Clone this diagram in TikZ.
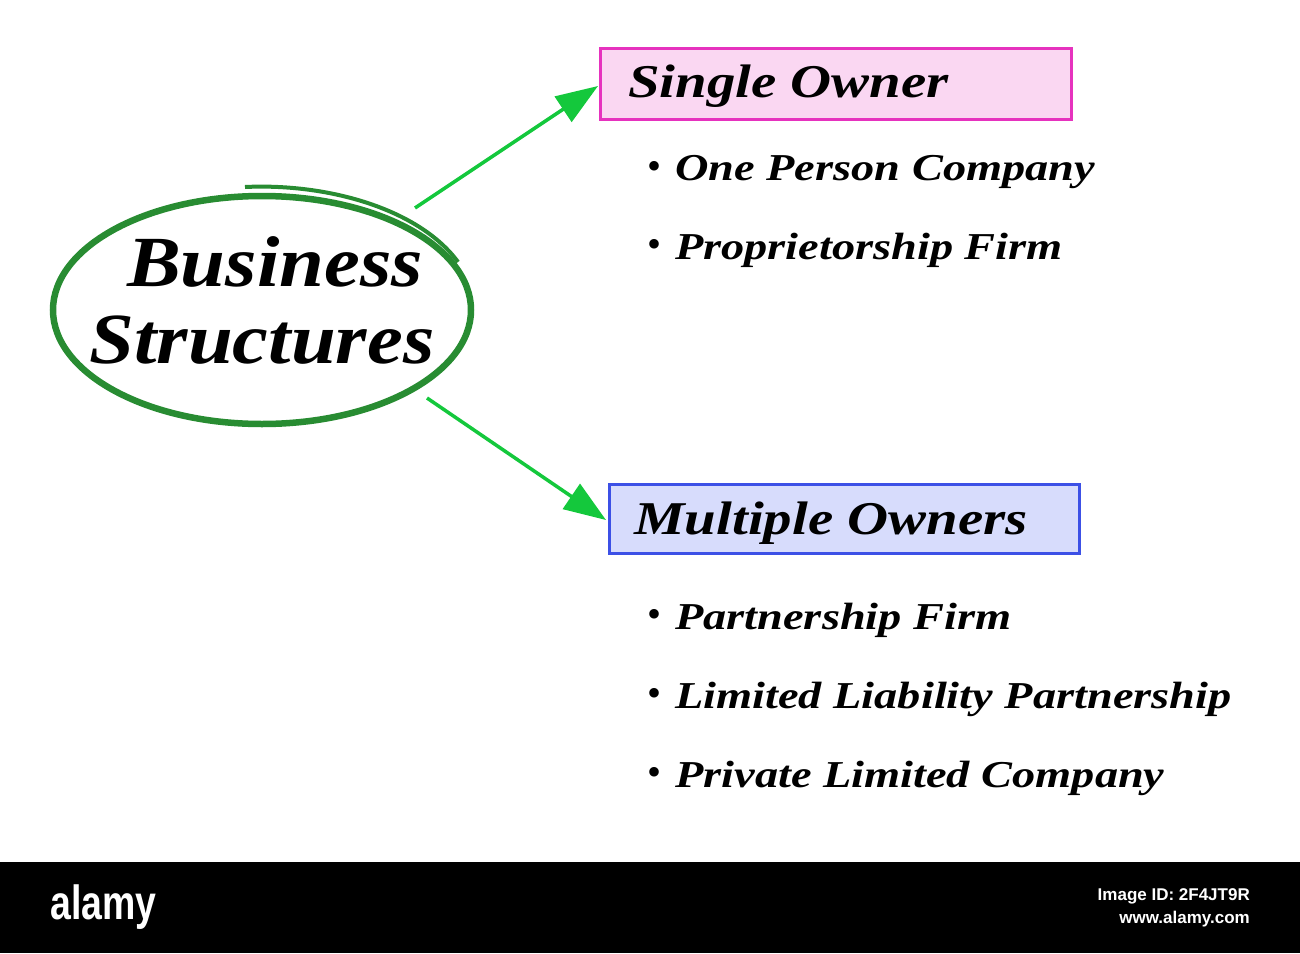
\documentclass[tikz,border=0pt]{standalone}
\usepackage{fontspec}
\setmainfont{Liberation Serif}
\setsansfont{Liberation Sans}
\newfontfamily\wide[FakeStretch=1.22]{Liberation Serif}
\newfontfamily\widebig[FakeStretch=1.12]{Liberation Serif}
\newfontfamily\widehead[FakeStretch=1.21]{Liberation Serif}
\newfontfamily\narrowsans[FakeStretch=0.78]{Liberation Sans}
\usetikzlibrary{arrows.meta,shapes.geometric}
\definecolor{dgreen}{RGB}{40,140,50}
\definecolor{agreen}{RGB}{20,200,60}
\definecolor{pinkfill}{RGB}{250,215,242}
\definecolor{pinkline}{RGB}{230,50,190}
\definecolor{bluefill}{RGB}{215,220,252}
\definecolor{blueline}{RGB}{60,80,230}
\tikzset{
  head/.style={font=\widehead\fontsize{47}{50}\selectfont\itshape\bfseries, anchor=west, inner sep=0},
  item/.style={font=\wide\fontsize{38}{44}\selectfont\itshape\bfseries, anchor=west, inner sep=0},
  dot/.style={font=\fontsize{40}{40}\selectfont, anchor=center, inner sep=0},
  box/.style={line width=3pt},
  arr/.style={draw=agreen, line width=3.5pt, -{Triangle[length=42pt,width=30pt]}}
}
\begin{document}
\begin{tikzpicture}[x=1pt,y=-1pt]
\useasboundingbox (0,0) rectangle (1300,953);
\fill[white] (0,0) rectangle (1300,953);
% ellipse
\node[draw=dgreen, line width=6.5pt, ellipse, minimum width=418pt, minimum height=228pt] (ell) at (262,310) {};
\draw[dgreen, line width=4pt] (245,187) .. controls (330,183) and (420,210) .. (458,262);
\node[inner sep=0, font=\widebig\fontsize{72}{76}\selectfont\itshape\bfseries] (t1) at (275,262) {Business};
\node[inner sep=0, font=\widebig\fontsize{72}{76}\selectfont\itshape\bfseries] (t2) at (262,340) {Structures};
% boxes
\draw[box, draw=pinkline, fill=pinkfill] (600,48) rectangle (1071,119);
\coordinate (b1) at (598,86);
\node[head] (h1) at (628,86) {Single Owner};
\draw[box, draw=blueline, fill=bluefill] (609,484) rectangle (1079,553);
\coordinate (b2) at (606,520);
\node[head] (h2) at (634,523) {Multiple Owners};
% arrows
\coordinate (a1) at (415,208);
\coordinate (a2) at (427,398);
\draw[arr] (a1) -- (b1);
\draw[arr] (a2) -- (b2);
% items
\foreach \n/\y/\t in {i1/168/One Person Company, i2/246/Proprietorship Firm, i3/616/Partnership Firm, i4/695/Limited Liability Partnership, i5/774/Private Limited Company}{
  \node[dot] (d\n) at (654,\y+2) {•};
  \node[item] (\n) at (675,\y+4) {\t};
}
% watermark bar
\fill[black] (0,862) rectangle (1300,953);
\node[inner sep=0, anchor=west, white, font=\narrowsans\bfseries\fontsize{48}{50}\selectfont] (al) at (50,907) {alamy};
\node[inner sep=0, anchor=east, white, font=\sffamily\bfseries\fontsize{17}{19}\selectfont] (id) at (1250,896) {Image ID: 2F4JT9R};
\node[inner sep=0, anchor=east, white, font=\sffamily\bfseries\fontsize{17}{19}\selectfont] (ww) at (1250,919) {www.alamy.com};
\end{tikzpicture}
\end{document}
